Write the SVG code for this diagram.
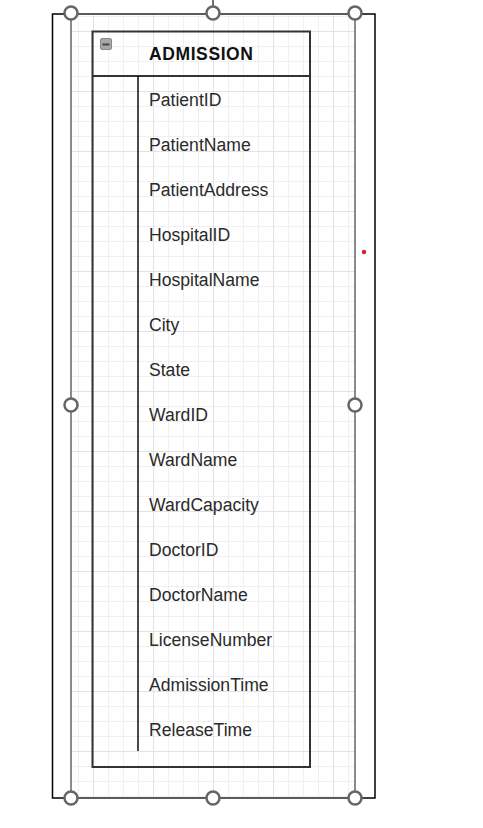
<svg xmlns="http://www.w3.org/2000/svg" width="483" height="828" viewBox="0 0 483 828">
<style>
.fld{font-family:"Liberation Sans",Arial,sans-serif;font-size:17.6px;fill:#2a2a2a}
.hdr{font-family:"Liberation Sans",Arial,sans-serif;font-size:17.5px;font-weight:bold;fill:#111;letter-spacing:0.6px}
.hdl{fill:#fff;stroke:#666;stroke-width:2.5}
</style>
<defs>
<pattern id="minor" patternUnits="userSpaceOnUse" x="78" y="1" width="15" height="15">
<path d="M0 0.5H15M0.5 0V15" fill="none" stroke="#f0f0f0" stroke-width="1"/>
</pattern>
<pattern id="major" patternUnits="userSpaceOnUse" x="93" y="31" width="60" height="60">
<path d="M0 0.5H60M0.5 0V60" fill="none" stroke="#e2e2e2" stroke-width="1"/>
</pattern>
</defs>
<rect width="483" height="828" fill="#fff"/>
<g id="grid">
<rect x="71" y="14" width="284" height="784" fill="url(#minor)"/>
<rect x="71" y="14" width="284" height="784" fill="url(#major)"/>
</g>
<g id="frame">
<rect x="52.5" y="14" width="322.5" height="784" fill="none" stroke="#000" stroke-width="1.5"/>
<rect x="71" y="14" width="284" height="784" fill="none" stroke="#666" stroke-width="1.5"/>
<line x1="213" y1="0" x2="213" y2="14" stroke="#444" stroke-width="1.5"/>
</g>
<g id="admission">
<rect x="92.5" y="31.5" width="217.5" height="735.5" fill="none" stroke="#333" stroke-width="2"/>
<line x1="92.5" y1="76" x2="310" y2="76" stroke="#333" stroke-width="2"/>
<line x1="138" y1="76" x2="138" y2="751" stroke="#111" stroke-width="1.5"/>
<rect x="100.5" y="38.5" width="11" height="11" rx="1.5" fill="#a8a8a8" stroke="#8a8a8a" stroke-width="1"/>
<line x1="102.5" y1="44.5" x2="109.5" y2="44.5" stroke="#444" stroke-width="2"/>
<text class="hdr" x="149" y="60">ADMISSION</text>
<text class="fld" x="149" y="106">PatientID</text>
<text class="fld" x="149" y="151">PatientName</text>
<text class="fld" x="149" y="196">PatientAddress</text>
<text class="fld" x="149" y="241">HospitalID</text>
<text class="fld" x="149" y="286">HospitalName</text>
<text class="fld" x="149" y="331">City</text>
<text class="fld" x="149" y="376">State</text>
<text class="fld" x="149" y="421">WardID</text>
<text class="fld" x="149" y="466">WardName</text>
<text class="fld" x="149" y="511">WardCapacity</text>
<text class="fld" x="149" y="556">DoctorID</text>
<text class="fld" x="149" y="601">DoctorName</text>
<text class="fld" x="149" y="646">LicenseNumber</text>
<text class="fld" x="149" y="691">AdmissionTime</text>
<text class="fld" x="149" y="736">ReleaseTime</text>
</g>
<g id="handles">
<circle class="hdl" cx="71" cy="13" r="6.5"/>
<circle class="hdl" cx="213" cy="13" r="6.5"/>
<circle class="hdl" cx="355" cy="13" r="6.5"/>
<circle class="hdl" cx="71" cy="405" r="6.5"/>
<circle class="hdl" cx="355" cy="405" r="6.5"/>
<circle class="hdl" cx="71" cy="798" r="6.5"/>
<circle class="hdl" cx="213" cy="798" r="6.5"/>
<circle class="hdl" cx="355" cy="798" r="6.5"/>
</g>
<circle id="dot" cx="364" cy="252" r="2.2" fill="#d0232f"/>
</svg>
